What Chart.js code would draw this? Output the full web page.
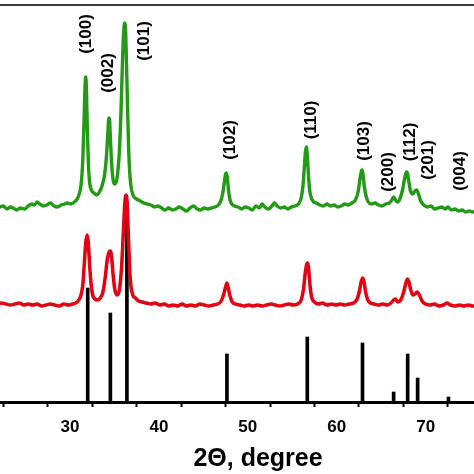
<!DOCTYPE html>
<html>
<head>
<meta charset="utf-8">
<script src="https://cdn.jsdelivr.net/npm/chart.js@4.4.1/dist/chart.umd.min.js"></script>
<style>
html,body{margin:0;padding:0;background:#fff;}
#wrap{position:relative;width:474px;height:474px;overflow:hidden;background:#fff;}
#c{position:absolute;left:-10px;top:0;}
</style>
</head>
<body>
<div id="wrap"><canvas id="c" width="536" height="474"></canvas></div>
<script>
// 2-theta (degree) / intensity (a.u.) pairs
const greenPattern = [
[19.8,194],[20.2,196],[20.6,193],[21.0,195],[21.4,197],[21.8,194],[22.1,195],[22.5,196],[22.9,193],[23.3,195],[23.6,194],[24.0,192],[24.4,194],[24.9,193],[25.3,196],[25.7,198],[26.0,197],[26.3,200],[26.6,198],[27.0,196],[27.4,197],[27.8,199],[28.2,196],[28.6,195],[29.0,197],[29.4,198],[29.7,199],[30.1,198],[30.5,200],[30.8,203],[31.1,210],[31.3,222],[31.45,245],[31.58,282],[31.7,318],[31.77,325],[31.85,312],[31.95,272],[32.07,238],[32.2,220],[32.4,212],[32.7,209],[33.0,207],[33.3,210],[33.6,216],[33.9,228],[34.1,246],[34.25,268],[34.37,284],[34.45,282],[34.55,262],[34.7,236],[34.85,222],[35.0,218],[35.15,219],[35.35,228],[35.55,250],[35.75,295],[35.9,340],[36.02,368],[36.15,379],[36.25,372],[36.35,340],[36.48,292],[36.6,252],[36.75,225],[36.95,211],[37.2,205],[37.5,203],[37.9,201],[38.3,199],[38.7,198],[39.1,197],[39.5,195],[39.9,196],[40.3,194],[40.7,192],[41.1,194],[41.5,192],[41.9,193],[42.3,195],[42.7,193],[43.1,191],[43.5,194],[43.9,196],[44.3,193],[44.7,192],[45.1,194],[45.5,193],[45.9,194],[46.3,195],[46.7,197],[47.0,202],[47.2,210],[47.38,221],[47.5,228],[47.6,229],[47.72,222],[47.85,210],[48.0,202],[48.2,198],[48.5,196],[48.9,195],[49.3,193],[49.7,195],[50.1,194],[50.5,192],[50.9,196],[51.3,194],[51.6,198],[51.9,195],[52.3,193],[52.7,196],[53.0,199],[53.3,196],[53.7,194],[54.1,195],[54.5,193],[54.9,195],[55.3,196],[55.7,198],[56.0,204],[56.2,216],[56.35,234],[56.48,250],[56.58,255],[56.68,248],[56.8,230],[56.95,212],[57.15,204],[57.4,200],[57.7,199],[58.1,197],[58.5,196],[58.9,198],[59.3,196],[59.7,197],[60.1,195],[60.5,196],[60.9,198],[61.3,197],[61.7,199],[62.1,202],[62.4,210],[62.6,222],[62.75,230],[62.85,232],[62.95,228],[63.1,216],[63.3,206],[63.55,200],[63.9,198],[64.3,199],[64.7,197],[65.1,196],[65.5,198],[65.9,199],[66.2,202],[66.4,205],[66.55,203],[66.8,200],[67.1,203],[67.4,212],[67.65,224],[67.85,230],[67.95,229],[68.1,221],[68.3,211],[68.55,208],[68.8,211],[69.0,212],[69.2,208],[69.45,201],[69.8,197],[70.2,195],[70.6,196],[71.0,193],[71.4,194],[71.8,195],[72.2,193],[72.5,195],[72.9,192],[73.3,193],[73.7,191],[74.1,192],[74.5,190],[74.9,191],[75.3,190],[75.7,191],[76.1,189],[76.6,190]
];
const redPattern = [
[19.8,99],[20.3,98],[20.8,99],[21.3,100],[21.8,98],[22.3,99],[22.8,98],[23.3,97],[23.8,98],[24.3,99],[24.8,97],[25.3,98],[25.8,97],[26.3,98],[26.8,96],[27.3,97],[27.8,98],[28.3,97],[28.8,96],[29.3,98],[29.8,97],[30.3,98],[30.8,100],[31.2,106],[31.45,118],[31.62,140],[31.78,160],[31.92,167],[32.05,160],[32.2,138],[32.37,118],[32.55,107],[32.8,103],[33.1,102],[33.4,104],[33.7,110],[33.95,124],[34.2,143],[34.4,150],[34.55,151],[34.7,143],[34.85,127],[35.05,112],[35.3,107],[35.55,112],[35.8,135],[36.0,170],[36.15,197],[36.3,207],[36.42,200],[36.55,170],[36.7,135],[36.85,116],[37.05,107],[37.35,104],[37.7,101],[38.1,100],[38.6,99],[39.1,98],[39.6,99],[40.1,97],[40.6,98],[41.1,96],[41.6,97],[42.1,96],[42.6,98],[43.1,96],[43.6,97],[44.1,96],[44.6,98],[45.1,97],[45.6,96],[46.1,97],[46.6,98],[47.0,101],[47.3,108],[47.5,115],[47.65,119],[47.8,114],[48.0,106],[48.25,100],[48.6,98],[49.1,97],[49.6,96],[50.1,97],[50.6,96],[51.1,97],[51.6,96],[52.1,97],[52.6,98],[53.1,97],[53.6,96],[54.1,97],[54.6,98],[55.1,97],[55.6,98],[56.0,102],[56.25,112],[56.45,128],[56.6,137],[56.72,139],[56.85,132],[57.0,116],[57.2,104],[57.5,100],[57.9,98],[58.4,99],[58.9,97],[59.4,98],[59.9,97],[60.4,98],[60.9,97],[61.4,98],[61.9,99],[62.3,103],[62.55,111],[62.75,120],[62.92,124],[63.08,120],[63.25,110],[63.5,102],[63.8,99],[64.2,98],[64.7,97],[65.2,98],[65.7,97],[66.1,99],[66.4,102],[66.6,103],[66.85,100],[67.2,102],[67.5,109],[67.75,118],[67.95,123],[68.1,121],[68.3,113],[68.55,107],[68.8,108],[69.05,110],[69.3,107],[69.6,101],[70.0,98],[70.5,97],[71.0,98],[71.5,96],[72.0,97],[72.4,99],[72.8,97],[73.3,96],[73.8,97],[74.3,96],[74.8,97],[75.3,96],[75.8,96],[76.3,95]
];
// reference stick pattern (ZnO)
const stickPos = [31.99, 34.54, 36.40, 47.65, 56.69, 62.90, 66.40, 67.98, 69.10, 72.57];
const stickHeight = [114, 89, 200, 48, 65, 59, 10, 48, 24, 5];
// Miller index labels
const hklText = ['(100)','(002)','(101)','(102)','(110)','(103)','(200)','(112)','(201)','(004)'];
const hklX = [31.8, 34.28, 38.33, 48.02, 57.14, 63.11, 65.81, 68.29, 70.32, 73.92];
const hklY = [368, 329, 361, 262, 282, 261, 230, 260, 242, 231];
const xTickLabels = [30, 40, 50, 60, 70];

const X_MIN = 21.0, X_MAX = 81.29, Y_MIN = 0, Y_MAX = 397;
const FONT = "'Liberation Sans', Arial, sans-serif";

const hklPlugin = {
  id: 'hkl',
  afterDatasetsDraw(chart) {
    const ctx = chart.ctx, xs = chart.scales.x, ys = chart.scales.y;
    ctx.save();
    ctx.fillStyle = '#000';
    ctx.font = 'bold 17px ' + FONT;
    ctx.textAlign = 'center';
    ctx.textBaseline = 'middle';
    hklText.forEach((t, i) => {
      ctx.save();
      ctx.translate(xs.getPixelForValue(hklX[i]), ys.getPixelForValue(hklY[i]));
      ctx.rotate(-Math.PI / 2);
      ctx.fillText(t, 0, 0);
      ctx.restore();
    });
    ctx.restore();
  }
};

new Chart(document.getElementById('c'), {
  type: 'line',
  data: {
    datasets: [
      {
        label: 'red', order: 0,
        data: redPattern.map(p => ({x: p[0], y: p[1]})),
        borderColor: 'rgb(226,0,18)', borderWidth: 3.5, pointRadius: 0,
        cubicInterpolationMode: 'monotone', fill: false
      },
      {
        label: 'green', order: 1,
        data: greenPattern.map(p => ({x: p[0], y: p[1]})),
        borderColor: 'rgb(34,154,22)', borderWidth: 3.4, pointRadius: 0,
        cubicInterpolationMode: 'monotone', fill: false
      },
      {
        type: 'bar', label: 'ref', order: 2,
        data: stickPos.map((p, i) => ({x: p, y: stickHeight[i]})),
        backgroundColor: '#000', borderWidth: 0, barThickness: 3, grouped: false
      }
    ]
  },
  options: {
    responsive: false,
    devicePixelRatio: 1,
    animation: false,
    layout: {padding: 0},
    plugins: {legend: {display: false}, tooltip: {enabled: false}, title: {display: false}},
    scales: {
      x: {
        type: 'linear', position: 'bottom', min: X_MIN, max: X_MAX, offset: false,
        border: {display: true, color: '#000', width: 3},
        grid: {display: true, drawOnChartArea: false, drawTicks: true, tickLength: 5, tickWidth: 2, tickColor: '#000'},
        ticks: {
          stepSize: 5, includeBounds: false, autoSkip: false, maxRotation: 0, minRotation: 0,
          padding: 10, color: '#000',
          font: {family: FONT, weight: 'bold', size: 17},
          callback: v => xTickLabels.includes(v) ? String(v) : ''
        },
        title: {display: true, text: '2Θ, degree', color: '#000',
          font: {family: FONT, weight: 'bold', size: 25}, padding: {top: 0, bottom: 0}},
        afterFit: s => { s.height = 72; }
      },
      x2: {
        type: 'linear', position: 'top', min: X_MIN, max: X_MAX,
        border: {display: true, color: '#3a3a3a', width: 2},
        grid: {display: false, drawTicks: false},
        ticks: {display: false},
        afterFit: s => { s.height = 5; }
      },
      y: {type: 'linear', display: false, min: Y_MIN, max: Y_MAX}
    }
  },
  plugins: [hklPlugin]
});
</script>
</body>
</html>
